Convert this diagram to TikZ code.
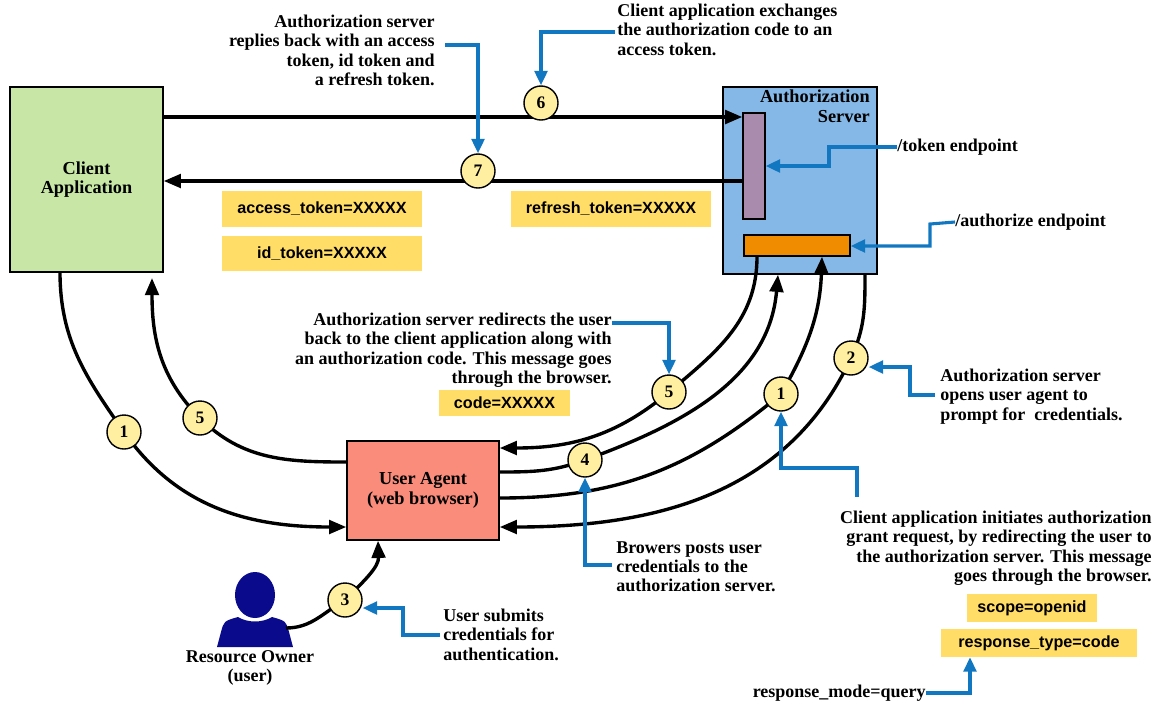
\documentclass[tikz,border=0pt]{standalone}
\usepackage{fontspec}
\setmainfont{Liberation Serif}
\newfontfamily\lblfont{Liberation Sans}
\usetikzlibrary{arrows.meta,positioning,calc}
\definecolor{appgreen}{HTML}{C8E6A5}
\definecolor{srvblue}{HTML}{85B8E6}
\definecolor{tokpurple}{HTML}{A98BAD}
\definecolor{authorange}{HTML}{F08C00}
\definecolor{agentred}{HTML}{FA8C7C}
\definecolor{tagyellow}{HTML}{FFDD66}
\definecolor{stepyellow}{HTML}{FFEFA0}
\definecolor{callblue}{HTML}{1177C0}
\definecolor{ownerblue}{HTML}{0A0A8C}
\tikzset{
	box/.style={draw,line width=1pt,inner sep=0pt,font=\bfseries,align=center},
	tag/.style={fill=tagyellow,inner sep=0pt,font=\lblfont\bfseries\fontsize{11.5}{13}\selectfont},
	stepmark/.style={circle,draw,line width=1pt,fill=stepyellow,minimum size=0.85cm,inner sep=0pt,font=\bfseries\fontsize{12.5}{13}\selectfont},
	note/.style={inner sep=0pt,font=\bfseries\fontsize{12.8}{13.6}\selectfont},
	flow/.style={line width=2.4pt,-{Triangle[length=4.3mm,width=3.4mm]}},
	callout/.style={draw=callblue,line width=2.2pt,-{Triangle[length=3.6mm,width=3.2mm,fill=callblue]}}
}
\begin{document}
\begin{tikzpicture}[x=0.025cm,y=-0.025cm]
	\useasboundingbox (0,0) rectangle (1158,713);

	% parties
	\node [box,fill=appgreen,minimum width=3.825cm,minimum height=4.625cm,font=\bfseries\fontsize{13}{14}\selectfont] (client) at (86.5,179.5) {Client\\Application};
	\node [box,fill=srvblue,minimum width=3.85cm,minimum height=4.675cm] (server) at (800,180.5) {};
	\node [note,anchor=north east,align=right,font=\bfseries\fontsize{13}{14}\selectfont] (srvname) at (870,90) {Authorization\\Server};
	\node [box,fill=tokpurple,minimum width=0.55cm,minimum height=2.65cm] (tokenep) at (754,166) {};
	\node [box,fill=authorange,minimum width=2.65cm,minimum height=0.525cm] (authep) at (797,245.5) {};
	\node [box,fill=agentred,minimum width=3.8cm,minimum height=2.475cm,font=\bfseries\fontsize{13}{14}\selectfont] (agent) at (423,490.5) {User Agent\\(web browser)};

	% resource owner
	\fill [ownerblue] (255,595) ellipse (20 and 23);
	\fill [ownerblue] (217,647) -- (221,632) .. controls (224,621) .. (238,617) .. controls (248,623) and (262,623) .. (272,617) .. controls (286,621) .. (289,632) -- (293,647) -- cycle;
	\coordinate (owner) at (286,628);
	\node [note,align=center] (ownername) at (250,668) {Resource Owner\\(user)};

	% tokens
	\node [tag,minimum width=5cm,minimum height=0.9cm] (access) at (322,209) {access\_token=XXXXX};
	\node [tag,minimum width=5cm,minimum height=0.875cm] (idtok) at (322,253.5) {id\_token=XXXXX};
	\node [tag,minimum width=5cm,minimum height=0.9cm] (refresh) at (611,209) {refresh\_token=XXXXX};
	\node [tag,minimum width=3.275cm,minimum height=0.65cm] (code) at (504.5,403) {code=XXXXX};
	\node [tag,minimum width=3.25cm,minimum height=0.7cm] (scope) at (1032,608) {scope=openid};
	\node [tag,minimum width=4.9cm,minimum height=0.7cm] (rtype) at (1039,643) {response\_type=code};

	% token exchange
	\draw [flow] (client.east|-0,117) -- (tokenep.west|-0,117);
	\draw [flow] (tokenep.west|-0,181) -- (client.east|-0,181);
	\node [stepmark] (s6) at (541,103) {6};
	\node [stepmark] (s7) at (478,171) {7};

	% redirects through the browser
	\draw [flow] (60,272) to[out=-90,in=125] (124,432) to[out=-55,in=180] (agent.west|-0,527);
	\draw [flow] (agent.west|-0,462) to[out=180,in=-45] (200,418) to[out=135,in=-90] (152,278);
	\draw [flow] (authep.south-|757,0) to[out=-90,in=40] (669,392) to[out=-140,in=0] (agent.east|-0,448);
	\draw [flow] (agent.east|-0,472) to[out=0,in=-160] (585,460) to[out=20,in=-95] (server.south-|778,0);
	\draw [flow] (agent.east|-0,498) to[out=0,in=-140] (781,394) to[out=60,in=-92] (authep.south-|822,0);
	\draw [flow] (server.south-|865,0) to[out=-90,in=65] (851,358) to[out=-115,in=0] (agent.east|-0,527);
	\draw [flow] (owner) to[out=0,in=-150] (345,600) to[out=45,in=-88] (agent.south-|378,0);
	\node [stepmark] (s1a) at (124,432) {1};
	\node [stepmark] (s5a) at (200,418) {5};
	\node [stepmark] (s5b) at (669,392) {5};
	\node [stepmark] (s4) at (585,460) {4};
	\node [stepmark] (s1b) at (781,394) {1};
	\node [stepmark] (s2) at (851,358) {2};
	\node [stepmark] (s3) at (345,600) {3};

	% notes
	\node [note,anchor=north east,align=right] (n7) at (435,15) {Authorization server\\replies back with an access\\token, id token and\\a refresh token.};
	\node [note,anchor=north west,align=left] (n6) at (617,4) {Client application exchanges\\the authorization code to an\\access token.};
	\node [note,anchor=west] (ntoken) at (897,147) {/token endpoint};
	\node [note,anchor=west] (nauth) at (955,222) {/authorize endpoint};
	\node [note,anchor=north east,align=right] (n5) at (612,313) {Authorization server redirects the user\\back to the client application along with\\an authorization code. This message goes\\through the browser.};
	\node [note,anchor=north west,align=left] (n2) at (940,369) {Authorization server\\opens user agent to\\prompt for\ \ credentials.};
	\node [note,anchor=north east,align=right] (n1) at (1152,511) {Client application initiates authorization\\grant request, by redirecting the user to\\the authorization server. This message\\goes through the browser.};
	\node [note,anchor=north west,align=left] (n4) at (616,541) {Browers posts user\\credentials to the\\authorization server.};
	\node [note,anchor=north west,align=left] (n3) at (443,609) {User submits\\credentials for\\authentication.};
	\node [note,anchor=east] (nmode) at (926,693) {response\_mode=query};

	% callouts
	\draw [callout] (445,45) -| (s7.north);
	\draw [callout] (615,32) -| (s6.north);
	\draw [callout] (ntoken.west) -- (829,147) -- (829,166) -- (tokenep.east|-0,166);
	\draw [callout] (nauth.west) -- (930,224) -- (930,246) -- (authep.east|-0,246);
	\draw [callout] (n5.north east|-0,323) -| (s5b.north);
	\draw [callout] (935,395) -- (910,395) -- (910,367) -- (s2.east|-0,367);
	\draw [callout] (857,497) -- (857,468) -| (s1b.south);
	\draw [callout] (612,565) -| (s4.south);
	\draw [callout] (440,635) -- (403,635) -- (403,608) -- (s3.east|-0,608);
	\draw [callout] (nmode.east) -| (rtype.south-|970,0);
\end{tikzpicture}
\end{document}
